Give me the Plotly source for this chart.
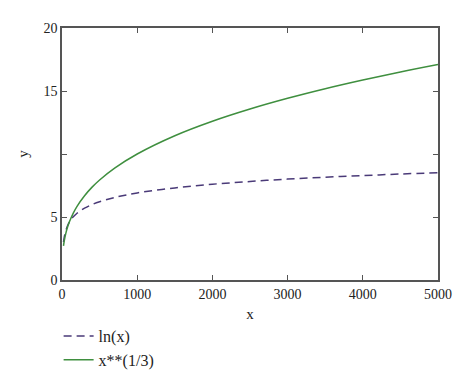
import plotly.graph_objects as go

x_vals = [20, 30, 50, 75, 100, 150, 200, 300, 400, 500, 700, 1000, 1500, 2000,
          2500, 3000, 3500, 4000, 4500, 5000]
ln_vals = [3.00, 3.40, 3.91, 4.32, 4.61, 5.01, 5.30, 5.70, 5.99, 6.21, 6.55, 6.91,
           7.31, 7.60, 7.82, 8.01, 8.16, 8.29, 8.41, 8.52]
cbrt_vals = [2.71, 3.11, 3.68, 4.22, 4.64, 5.31, 5.85, 6.69, 7.37, 7.94, 8.88, 10.00,
             11.45, 12.60, 13.57, 14.42, 15.18, 15.87, 16.51, 17.10]

y_tickvals = [0, 5, 10, 15, 20]
y_ticktext = ["0", "5", "", "15", "20"]
x_tickvals = [0, 1000, 2000, 3000, 4000, 5000]

font_family = "Liberation Serif"
axis_color = "#555555"

fig = go.Figure()
fig.add_trace(go.Scatter(x=x_vals, y=ln_vals, mode="lines", name="ln(x)",
                         line=dict(color="#4a3a78", width=1.5, dash="8px,5px", shape="spline")))
fig.add_trace(go.Scatter(x=x_vals, y=cbrt_vals, mode="lines", name="x**(1/3)",
                         line=dict(color="#3f8f3f", width=1.5, shape="spline")))

axis_common = dict(showgrid=False, zeroline=False, showline=True, linecolor=axis_color,
                   linewidth=1.5, mirror="ticks", ticks="inside", ticklen=5,
                   tickcolor=axis_color, tickfont=dict(family=font_family, size=14, color="#222"))

fig.update_xaxes(range=[0, 5000], tickvals=x_tickvals,
                 title=dict(text="x", font=dict(family=font_family, size=15, color="#222"), standoff=8),
                 **axis_common)
fig.update_yaxes(range=[0, 20], tickvals=y_tickvals, ticktext=y_ticktext,
                 title=dict(text="y", font=dict(family=font_family, size=15, color="#222"), standoff=11),
                 **axis_common)

fig.update_layout(
    width=474, height=391,
    margin=dict(l=54, r=44, t=20, b=119),
    plot_bgcolor="white", paper_bgcolor="white",
    font=dict(family=font_family, size=14, color="#222"),
    showlegend=True,
    legend=dict(x=-0.009, y=-0.155, xanchor="left", yanchor="top",
                bgcolor="rgba(0,0,0,0)", font=dict(family=font_family, size=16, color="#222"),
                tracegroupgap=0, itemwidth=30),
)

fig.write_html("out.html")
